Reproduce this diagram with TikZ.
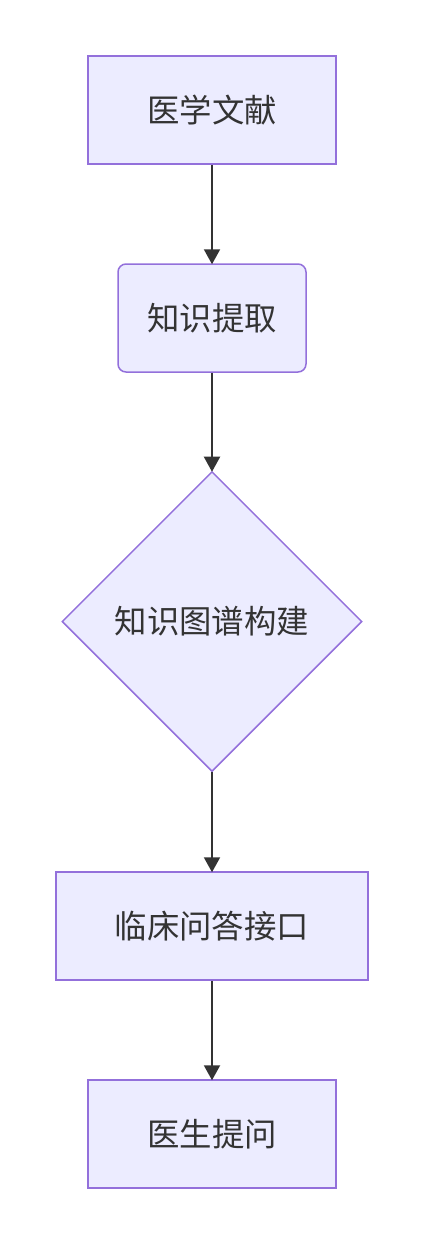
\documentclass[tikz,border=0pt]{standalone}
\usepackage{fontspec}
\newfontfamily\cjk{Noto Sans CJK SC}
\usetikzlibrary{shapes.geometric,arrows.meta}
\definecolor{nodefill}{HTML}{ECECFF}
\definecolor{nodeline}{HTML}{9370DB}
\definecolor{edgecol}{HTML}{333333}
\tikzset{
  box/.style={draw=nodeline,fill=nodefill,line width=0.75pt,minimum width=124pt,minimum height=54pt,inner sep=0pt,font=\cjk\fontsize{16.2pt}{19pt}\selectfont,text=edgecol},
  rbox/.style={box,rounded corners=4pt,minimum width=94pt},
  dia/.style={draw=nodeline,fill=nodefill,line width=0.75pt,diamond,aspect=1,minimum width=150pt,minimum height=150pt,inner sep=0pt,font=\cjk\fontsize{16.2pt}{19pt}\selectfont,text=edgecol},
  conn/.style={draw=edgecol,line width=1pt,shorten >=-0.5pt,-{Triangle[length=7.5pt,width=8pt]}}
}
\begin{document}
\begin{tikzpicture}[x=0.5pt,y=-0.5pt]
\useasboundingbox (0,0) rectangle (424,1244);
\node[box] (a) at (212,110) {医学文献};
\node[rbox] (b) at (212,318) {知识提取};
\node[dia] (c) at (212,621.5) {知识图谱构建};
\node[box,minimum width=156pt] (d) at (212,926) {临床问答接口};
\node[box] (e) at (212,1134) {医生提问};
\draw[conn] (a) -- (b);
\draw[conn] (b) -- (c);
\draw[conn] (c) -- (d);
\draw[conn] (d) -- (e);
\end{tikzpicture}
\end{document}
